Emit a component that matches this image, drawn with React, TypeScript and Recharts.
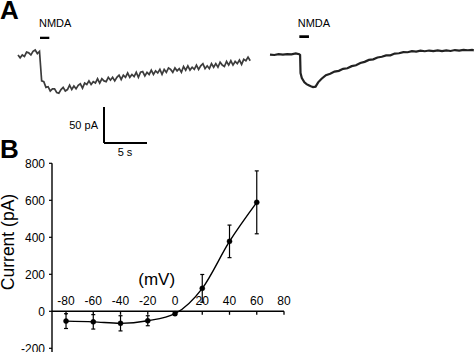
import React from 'react';
import { LineChart, Line, XAxis, YAxis, ReferenceLine, ReferenceArea, ErrorBar } from 'recharts';

const FONT = 'Liberation Sans, Arial, Helvetica, sans-serif';

// ---------- Panel A : current traces (time in s, current in pA) ----------
const LEFT_DT = 0.25;
const leftCurrent = [
  0, -4, 0, -2, 4, 3, 0, 5, 7, 2, 5,
  -36, -37, -45, -44, -50, -47, -47, -52, -53, -48, -45, -50, -48, -42, -48, -43, -47,
  -42, -40, -46, -39, -41, -36, -41, -37, -39, -33, -39, -33, -36, -37, -31, -35,
  -31, -36, -31, -28, -34, -28, -31, -25, -31, -27, -30, -24, -31, -24, -23, -29,
  -24, -27, -21, -27, -22, -25, -20, -27, -20, -24, -18, -20, -24, -18, -22, -19,
  -24, -16, -21, -15, -21, -17, -20, -14, -20, -15, -12, -19, -15, -19, -12, -17,
  -12, -17, -10, -14, -16, -9, -14, -8, -14, -9, -12, -7, -13, -6, -8, -3, -8,
];

const rightTime = [
  0, 0.5, 1, 1.5, 2, 2.5, 3, 3.4, 3.5, 3.55, 3.7, 4, 4.25, 4.5, 4.75, 5, 5.3, 5.6, 6,
  6.5, 7, 7.5, 8, 8.5, 9, 9.5, 10, 10.5, 11, 11.5, 12, 12.5, 13, 13.5, 14, 14.5, 15,
  15.5, 16, 16.5, 17, 17.5, 18, 18.5, 19, 19.5, 20, 20.5, 21, 21.5, 22, 22.5, 23, 23.5, 23.7,
];
const rightCurrent = [
  0.6, 0, 1.2, 0.6, 1.3, 0.8, 2.2, 1, 0, -25, -32, -38, -40.5, -42, -43.5, -44.5, -44, -38, -33,
  -28, -26, -23, -22, -19.2, -18.4, -15.5, -14.3, -11, -9.5, -6.8, -6, -3.4, -2.4, -0.5, -0.4, 2, 2.4,
  4, 3.8, 5.3, 4.8, 6, 5.2, 6.2, 5.4, 6.3, 5.4, 6.5, 5.6, 6.9, 6.2, 7.2, 6.6, 7, 6.5,
];

// NMDA application bars [start s, end s] and bar current band [low, high]
const leftNmda = [2.56, 3.64];
const rightNmda = [3.41, 4.53];
const leftNmdaBand = [22.2, 25.4];
const rightNmdaBand = [23.6, 27.4];

// scale bar: 5 s, 50 pA
const scaleT = [10, 15];
const scaleI = [-72.2, -122.2];

const leftData = leftCurrent.map((v, i) => ({ t: i * LEFT_DT, v }));
const rightData = rightTime.map((t, i) => ({ t, v: rightCurrent[i] }));

// ---------- Panel B : I-V relation ----------
const ivVoltage = [-80, -60, -40, -20, 0, 20, 40, 60];
const ivCurrent = [-53, -57, -65, -51, -13, 124, 378, 589];
const ivError = [40, 39, 41, 27, 8, 75, 88, 170];
const xTicks = [-80, -60, -40, -20, 0, 20, 40, 60, 80];
const yTicks = [-200, 0, 200, 400, 600, 800];
const yMinorTicks = [-100, 100, 300, 500, 700];
const X_DOMAIN = [-90.3, 80];
const Y_DOMAIN = [-220, 800];

const ivData = ivVoltage.map((v, i) => ({ v, i: ivCurrent[i], err: ivError[i] }));

const B_TOP = 163.3;
const PLOT_BOTTOM = 352;
const X_AXIS_H = 20;
const PLOT_H = PLOT_BOTTOM - B_TOP;
const ZERO_OFFSET = (PLOT_H * (0 - Y_DOMAIN[0])) / (Y_DOMAIN[1] - Y_DOMAIN[0]);

const XTick = (props: any) => {
  const { x, y, payload } = props;
  const ay = y - ZERO_OFFSET;
  return (
    <g>
      <line x1={x} y1={ay} x2={x} y2={ay + 3.5} stroke="#000" strokeWidth={1.3} />
      <text x={x} y={ay - 6} textAnchor="middle" fontSize={12} fontFamily={FONT} fill="#000">
        {payload.value}
      </text>
    </g>
  );
};

export default function App() {
  return (
    <div style={{ position: 'absolute', left: 0, top: 0, width: 474, height: 352, background: '#fff', overflow: 'hidden' }}>
      {/* Panel A left trace */}
      <div style={{ position: 'absolute', left: 0, top: 0 }}>
        <LineChart width={260} height={165} data={leftData} margin={{ top: 0, right: 0, bottom: 0, left: 0 }}>
          <XAxis dataKey="t" type="number" domain={[-2.093, 28.14]} hide />
          <YAxis type="number" domain={[-152.8, 76.4]} hide />
          <ReferenceArea x1={leftNmda[0]} x2={leftNmda[1]} y1={leftNmdaBand[0]} y2={leftNmdaBand[1]} fill="#000" fillOpacity={1} stroke="none" />
          <Line dataKey="v" stroke="#3c3c3c" strokeWidth={1.7} dot={false} isAnimationActive={false} type="linear" />
          <ReferenceLine segment={[{ x: scaleT[0], y: scaleI[0] }, { x: scaleT[0], y: scaleI[1] }]} stroke="#000" strokeWidth={2} />
          <ReferenceLine segment={[{ x: scaleT[0], y: scaleI[1] }, { x: scaleT[1], y: scaleI[1] }]} stroke="#000" strokeWidth={2} />
        </LineChart>
      </div>
      {/* Panel A right trace */}
      <div style={{ position: 'absolute', left: 260, top: 0 }}>
        <LineChart width={214} height={165} data={rightData} margin={{ top: 0, right: 0, bottom: 0, left: 0 }}>
          <XAxis dataKey="t" type="number" domain={[-1.163, 23.72]} hide />
          <YAxis type="number" domain={[-152.8, 76.4]} hide />
          <ReferenceArea x1={rightNmda[0]} x2={rightNmda[1]} y1={rightNmdaBand[0]} y2={rightNmdaBand[1]} fill="#000" fillOpacity={1} stroke="none" />
          <Line dataKey="v" stroke="#222" strokeWidth={2.2} dot={false} isAnimationActive={false} type="linear" />
        </LineChart>
      </div>
      {/* Panel B */}
      <div style={{ position: 'absolute', left: 0, top: 0 }}>
        <LineChart width={474} height={PLOT_BOTTOM + X_AXIS_H} data={ivData} margin={{ top: B_TOP, right: 190, bottom: 0, left: 0 }}>
          <XAxis
            dataKey="v"
            type="number"
            domain={X_DOMAIN}
            ticks={xTicks}
            interval={0}
            height={X_AXIS_H}
            axisLine={false}
            tickLine={false}
            tickSize={0}
            tickMargin={0}
            tick={(p: any) => <XTick {...p} />}
          />
          <YAxis
            yAxisId="minor"
            type="number"
            domain={Y_DOMAIN}
            ticks={yMinorTicks}
            interval={0}
            width={0}
            tick={false}
            tickSize={2}
            axisLine={false}
            tickLine={{ stroke: '#000', strokeWidth: 1 }}
          />
          <YAxis
            type="number"
            domain={Y_DOMAIN}
            ticks={yTicks}
            interval={0}
            width={52}
            tickSize={3}
            tickMargin={4}
            axisLine={{ stroke: '#000', strokeWidth: 1.4 }}
            tickLine={{ stroke: '#000', strokeWidth: 1.2 }}
            tick={{ fill: '#000', fontSize: 12, fontFamily: FONT }}
          />
          <ReferenceLine y={0} stroke="#000" strokeWidth={1.4} />
          <Line
            dataKey="i"
            type="monotone"
            stroke="#000"
            strokeWidth={1.4}
            dot={{ r: 2.5, fill: '#000', stroke: '#000', strokeWidth: 0.5 }}
            isAnimationActive={false}
          >
            <ErrorBar dataKey="err" width={2} stroke="#000" strokeWidth={1.2} direction="y" />
          </Line>
        </LineChart>
      </div>
      {/* Text labels */}
      <svg width={474} height={352} style={{ position: 'absolute', left: 0, top: 0, pointerEvents: 'none' }}>
        <g fontFamily={FONT} fill="#000">
          <text x={0} y={19} fontSize={26} fontWeight="bold">A</text>
          <text x={0} y={158} fontSize={26} fontWeight="bold">B</text>
          <text x={39} y={26.7} fontSize={11}>NMDA</text>
          <text x={297.7} y={26.7} fontSize={11}>NMDA</text>
          <text x={98} y={129} fontSize={11} textAnchor="end">50 pA</text>
          <text x={125} y={156} fontSize={11} textAnchor="middle">5 s</text>
          <text x={156.7} y={284.7} fontSize={17} textAnchor="middle">(mV)</text>
          <text x={13.5} y={242} fontSize={17.5} textAnchor="middle" transform="rotate(-90 13.5 242)">Current (pA)</text>
        </g>
      </svg>
    </div>
  );
}
